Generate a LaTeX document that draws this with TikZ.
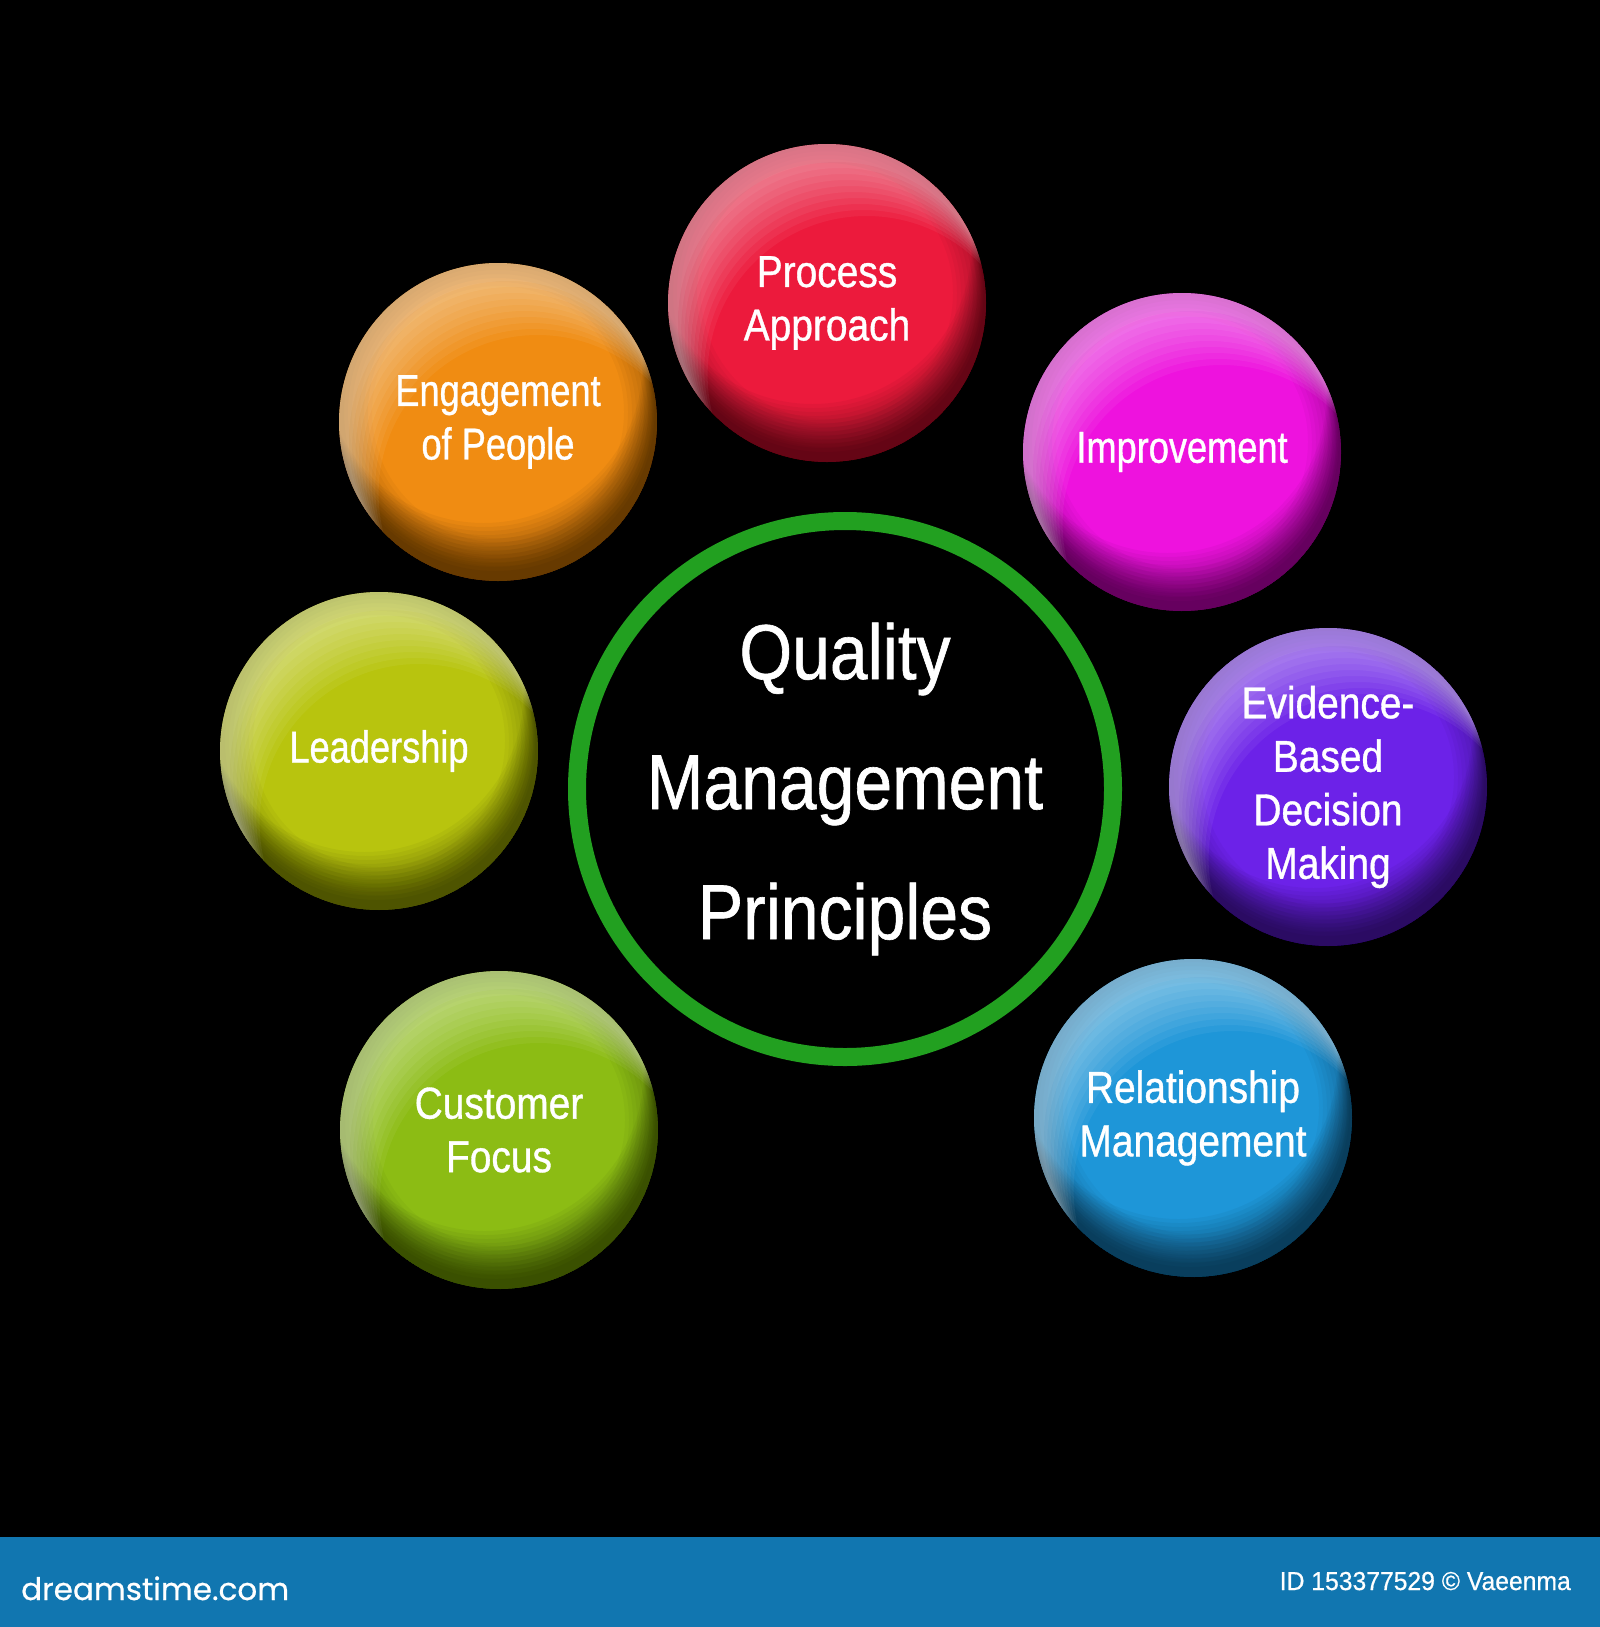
\documentclass[tikz,border=0pt]{standalone}
\usepackage{fontspec}
\setmainfont{Liberation Sans}[FakeStretch=0.87, FakeBold=0.8]
\newfontfamily\narrowfont{Liberation Sans}[FakeStretch=0.81, FakeBold=0.8]
\newfontfamily\idfont{Liberation Sans}[FakeStretch=0.95, FakeBold=0.6]
\newfontfamily\logofont{Poppins}[FakeBold=0.6]
\usetikzlibrary{calc}
\definecolor{qmpred}{RGB}{236,26,60}
\definecolor{qmpmagenta}{RGB}{238,18,222}
\definecolor{qmppurple}{RGB}{108,34,232}
\definecolor{qmpblue}{RGB}{30,150,216}
\definecolor{qmpgreen}{RGB}{140,188,20}
\definecolor{qmpolive}{RGB}{184,196,14}
\definecolor{qmporange}{RGB}{240,140,18}
\definecolor{qmpring}{RGB}{34,160,32}
\definecolor{qmpbar}{RGB}{17,118,176}

\begin{document}
\begin{tikzpicture}[x=1pt, y=-1pt,
  qmp bubble/.style={circle, minimum size=318, inner sep=0, align=center, text=white, fill=#1,
    font={\fontsize{44.7}{53.5}\selectfont},
    path picture={
      \coordinate (bc) at (path picture bounding box.center);
      \foreach \r in {126,130,...,154}
        \fill[black, opacity=0.03, even odd rule] (bc) circle (175) ($(bc)+(0,-10)$) circle (\r);
      \foreach \d in {10,14,...,58}
        \fill[black, opacity=0.04, even odd rule] (bc) circle (175) ($(bc)+(-0.25*\d,-\d)$) circle (159);
      \foreach \d in {18,24,...,72}
        \fill[white, opacity=0.055, even odd rule] (bc) circle (175) ($(bc)+(0.55*\d,\d)$) circle (159);
    }},
  narrow/.style={font={\narrowfont\fontsize{44.7}{53.5}\selectfont}},
  qmp ring/.style={draw=qmpring, line width=18, circle, minimum size=536, inner sep=0, align=center,
    text=white, font={\fontsize{78}{130}\selectfont}}]
    \useasboundingbox (0,0) rectangle (1600,1627);
    \fill[black] (0,0) rectangle (1600,1627);
    \fill[qmpbar] (0,1537) rectangle (1600,1627);

    \node[qmp ring] (quality) at (845,789) {Quality\\Management\\Principles};

    \node[qmp bubble=qmpred] (process) at (827,303) {Process\\Approach};
    \node[qmp bubble=qmpmagenta, narrow] (improve) at (1182,452) {Improvement};
    \node[qmp bubble=qmppurple] (evidence) at (1328,787) {Evidence-\\Based\\Decision\\Making};
    \node[qmp bubble=qmpblue] (relation) at (1193,1118) {Relationship\\Management};
    \node[qmp bubble=qmpgreen] (customer) at (499,1130) {Customer\\Focus};
    \node[qmp bubble=qmpolive, narrow] (leader) at (379,751) {Leadership};
    \node[qmp bubble=qmporange, narrow] (engage) at (498,422) {Engagement\\of People};

    \node[anchor=base west, inner sep=0, text=white, font={\logofont\fontsize{31}{31}\selectfont}] (logo) at (21,1600) {dreamstime.com};
    \node[anchor=base east, inner sep=0, text=white, font={\idfont\fontsize{26}{26}\selectfont}] (imgid) at (1571,1590) {ID 153377529 © Vaeenma};
\end{tikzpicture}
\end{document}
